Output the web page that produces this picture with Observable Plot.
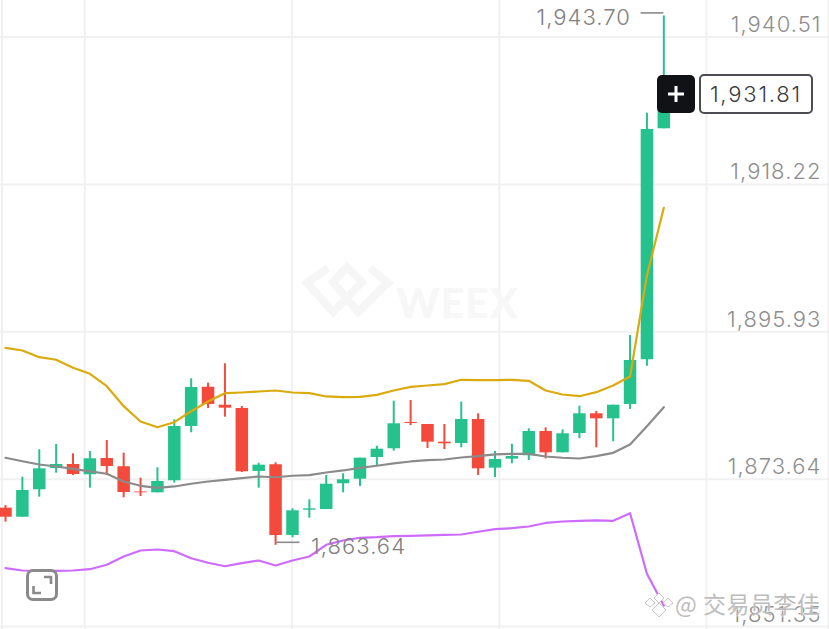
<!DOCTYPE html>
<html>
<head>
<meta charset="utf-8">
<script src="https://cdn.jsdelivr.net/npm/d3@7"></script>
<script src="https://cdn.jsdelivr.net/npm/@observablehq/plot@0.6"></script>
<style>
html,body{margin:0;padding:0;background:#fff;overflow:hidden}
#wrap{position:relative;width:829px;height:629px;font-family:Inter,Lato,sans-serif}
#wrap svg{display:block}
#chart svg text{letter-spacing:1.05px}
.ov{position:absolute;box-sizing:border-box}
#badge{left:657px;top:75px;width:38px;height:38px;background:#111216;border-radius:5px}
#tag{left:699px;top:74px;width:114px;height:40px;border:2px solid #4c4d52;border-radius:5px;background:#fff;color:#3c3c40;font-size:22px;font-weight:300;letter-spacing:1.8px;line-height:37px;text-align:center}
</style>
</head>
<body>
<div id="wrap">
<div id="chart"></div>
<svg class="ov" style="left:0;top:0;pointer-events:none" width="829" height="629" viewBox="0 0 829 629" fill="none">
  <rect x="27.5" y="570.5" width="29" height="29" rx="5.5" stroke="#8a8a8a" stroke-width="3" fill="#fff"/>
  <path d="M44 577 H51 V584 M33.500 586 V593 H41" stroke="#8a8a8a" stroke-width="2.6"/>
  <g fill="#fff" stroke="#c8c8c8" stroke-width="1">
    <path d="M659 593 L664 598 L659 603 L654 598Z"/>
    <path d="M650 598 L655 603 L650 607 L645 603Z"/>
    <path d="M668 598 L673 603 L668 607 L663 603Z"/>
    <path d="M659 603 L666 610 L659 617 L652 610Z"/>
  </g>
</svg>
<div class="ov" id="badge"></div>
<svg class="ov" style="left:657px;top:75px" width="38" height="38"><path d="M19 11 V27 M11 19 H27" stroke="#fff" stroke-width="3"/></svg>
<div class="ov" id="tag">1,931.81</div>
<div class="ov" style="left:675px;top:588px;font-family:'Noto Sans CJK SC';font-size:23px;line-height:30px;color:#bdbdbd;white-space:nowrap;letter-spacing:.5px;text-shadow:0 1px 2px rgba(255,255,255,.9)">@ 交易员李佳</div>
</div>
<script>
const opens = [1869.26,1867.89,1872.04,1875.26,1875.86,1874.31,1876.77,1875.52,1871.71,1871.58,1873.40,1881.61,1887.55,1884.83,1884.33,1874.81,1875.82,1865.13,1868.95,1869.06,1872.95,1873.64,1876.92,1878.24,1882.22,1881.91,1879.24,1879.04,1882.67,1875.31,1876.67,1877.18,1880.85,1877.63,1880.55,1883.53,1882.77,1884.94,1891.70,1926.63];
const closes = [1867.89,1871.93,1875.21,1875.86,1874.35,1876.73,1875.56,1871.63,1871.58,1873.29,1881.61,1887.51,1884.94,1884.38,1874.76,1875.76,1865.13,1868.86,1869.16,1872.88,1873.55,1876.82,1878.18,1882.02,1882.06,1879.24,1878.99,1882.67,1875.21,1876.62,1877.07,1880.85,1877.63,1880.51,1883.53,1882.77,1884.83,1891.59,1926.52,1931.81];
const highs = [1869.66,1873.94,1878.09,1878.89,1877.48,1877.83,1879.49,1877.57,1873.79,1875.36,1882.62,1888.82,1888.16,1891.09,1884.63,1876.06,1876.12,1869.16,1870.52,1874.20,1874.46,1876.82,1878.63,1885.44,1885.54,1881.91,1881.91,1885.29,1883.53,1877.83,1878.93,1881.26,1881.41,1881.11,1884.68,1883.88,1884.83,1895.37,1928.99,1943.70];
const lows = [1867.14,1867.89,1870.92,1874.55,1874.20,1872.28,1874.20,1870.83,1871.02,1871.58,1873.04,1880.66,1884.33,1883.02,1874.65,1872.28,1863.64,1864.78,1867.74,1869.06,1871.58,1872.54,1875.71,1877.88,1881.76,1878.28,1878.13,1878.39,1874.20,1873.90,1875.97,1876.47,1876.70,1877.63,1879.75,1878.39,1879.30,1884.18,1890.73,1926.63];
const upperBand = [1893.51,1893.10,1892.09,1891.70,1890.49,1889.58,1887.70,1884.68,1882.37,1881.50,1882.26,1883.92,1885.39,1886.65,1886.75,1886.90,1887.05,1886.75,1886.65,1886.15,1886.04,1886.10,1886.40,1887.05,1887.61,1887.81,1888.01,1888.67,1888.61,1888.61,1888.67,1888.52,1887.05,1886.45,1886.19,1886.80,1887.81,1889.17,1904.44,1914.68];
const middleBand = [1876.88,1876.36,1875.86,1875.56,1875.21,1874.81,1874.46,1873.29,1872.64,1872.34,1872.54,1872.95,1873.29,1873.55,1873.79,1874.05,1873.93,1874.16,1874.25,1874.65,1874.96,1875.36,1875.67,1876.02,1876.32,1876.51,1876.62,1876.92,1877.12,1877.38,1877.48,1877.48,1877.07,1876.88,1876.77,1877.12,1877.63,1878.89,1881.66,1884.53];
const lowerBand = [1860.18,1859.83,1859.79,1859.79,1859.83,1860.03,1860.70,1861.95,1862.86,1863.01,1862.75,1861.69,1861.00,1860.48,1860.94,1861.35,1860.59,1861.35,1861.95,1863.72,1864.37,1864.78,1864.87,1865.02,1865.08,1865.13,1865.23,1865.28,1865.69,1866.08,1866.23,1866.49,1867.02,1867.24,1867.35,1867.40,1867.35,1868.50,1859.34,1854.54];
const priceTicks = [1940.51,1918.22,1895.93,1873.64,1851.35];
const timeGrid = [-0.21,4.70,16.98,29.25,41.53,48.76];

const fmt = d3.format(",.2f");
const green = "#25C28E", red = "#F44A3B";
const candles = opens.map((o,i)=>({i,o,c:closes[i],h:highs[i],l:lows[i],col:closes[i]>=o?green:red}));
const series = a => a.map((v,i)=>({i,v}));
const line = (a,stroke,w) => Plot.line(series(a),{x:"i",y:"v",stroke,strokeWidth:w,curve:"linear"});
const hiIdx = highs.indexOf(d3.max(highs)), loIdx = lows.indexOf(d3.min(lows));

const chart = Plot.plot({
  width:829,height:629,marginTop:0,marginRight:0,marginBottom:0,marginLeft:0,
  style:{background:"transparent",fontFamily:"Inter, Lato, sans-serif"},
  x:{domain:[-0.2962,48.815],range:[0,829],axis:null},
  y:{domain:[1850.91,1946.03],range:[629,0],axis:null},
  marks:[
    Plot.ruleY(priceTicks,{y:d=>d,stroke:"#f1f1f1",strokeWidth:2}),
    Plot.ruleX(timeGrid,{x:d=>d,stroke:"#f1f1f1",strokeWidth:2}),
    () => {
      const ns = "http://www.w3.org/2000/svg";
      const p = document.createElementNS(ns,"path");
      p.setAttribute("d","M328 268 L307 283 L333 312 L362 282 L347 267 L333 282 L358 312 L388 283 L370 268");
      p.setAttribute("fill","none");p.setAttribute("stroke","#f6f6f6");p.setAttribute("stroke-width","8");
      return p;
    },
    Plot.text(["WEEX"],{frameAnchor:"top-left",dx:457,dy:288,text:d=>d,fontFamily:"Lato",fontSize:41,fontWeight:900,fill:"#f7f7f7",textAnchor:"middle"}),
    Plot.ruleX(candles,{x:"i",y1:"l",y2:"h",stroke:"col",strokeWidth:2}),
    Plot.ruleX(candles,{x:"i",y1:"o",y2:"c",stroke:"col",strokeWidth:12.5}),
    line(middleBand,"#8B8B8B",2.2),
    line(upperBand,"#DBAA0C",2.2),
    line(lowerBand,"#CE6BFF",2.2),
    Plot.ruleY([highs[hiIdx]],{y:d=>d,x1:()=>hiIdx-1.35,x2:()=>hiIdx,dy:-3,stroke:"#8a8a8a",strokeWidth:1.6}),
    Plot.ruleY([lows[loIdx]],{y:d=>d,x1:()=>loIdx,x2:()=>loIdx+1.45,dy:-3,stroke:"#8a8a8a",strokeWidth:1.6}),
    Plot.text([highs[hiIdx]],{x:()=>hiIdx-1.95,y:d=>d,dy:2,text:fmt,textAnchor:"end",fontSize:22,fontWeight:300,fill:"#808080"}),
    Plot.text([lows[loIdx]],{x:()=>loIdx+2.1,y:d=>d,dy:2,text:fmt,textAnchor:"start",fontSize:22,fontWeight:300,fill:"#808080"}),
    Plot.text(priceTicks,{frameAnchor:"right",y:d=>d,dx:-8,dy:-12,text:fmt,textAnchor:"end",fontSize:22,fontWeight:300,fill:"#8e8e8e"})
  ]
});
document.getElementById("chart").appendChild(chart);
</script>
</body>
</html>
